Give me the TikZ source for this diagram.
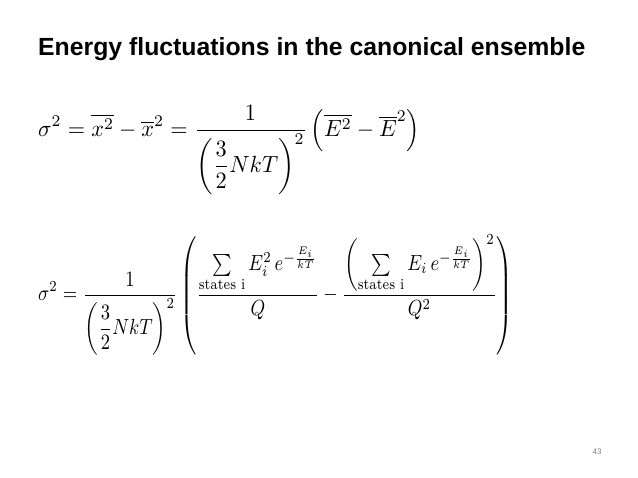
\documentclass[tikz,border=0pt]{standalone}
\usepackage{graphicx}
\usepackage{amsmath}
\usepackage{fontspec}
\setsansfont{Liberation Sans}
\begin{document}
\begin{tikzpicture}[x=1pt,y=1pt]
\useasboundingbox (0,0) rectangle (638,-478);
\node[anchor=west,inner sep=0,font=\sffamily\bfseries\fontsize{24.8}{28}\selectfont] (title) at (38,-49) {Energy fluctuations in the canonical ensemble};
\node[anchor=west,inner sep=0] (eq1) at (38,-150) {\scalebox{1}[1.05]{\resizebox{382pt}{!}{$\displaystyle \sigma^2=\overline{x^2}-\overline{x}^2=\frac{1}{\left(\dfrac{3}{2}NkT\right)^2}\left(\overline{E^2}-\overline{E}^2\right)$}}};
\node[anchor=west,inner sep=0] (eq2) at (38,-295) {\scalebox{1}[1.18]{\resizebox{475pt}{!}{$\displaystyle \sigma^2=\frac{1}{\left(\dfrac{3}{2}NkT\right)^2}\left(\frac{\sum\limits_{\text{states i}} E_i^2\,e^{-\frac{E_i}{kT}}}{Q}-\frac{\left(\sum\limits_{\text{states i}} E_i\,e^{-\frac{E_i}{kT}}\right)^2}{Q^2}\right)$}}};
\node[anchor=center,inner sep=0,font=\sffamily\fontsize{8}{9}\selectfont,text=gray] (pg) at (597,-452) {43};
\end{tikzpicture}
\end{document}
